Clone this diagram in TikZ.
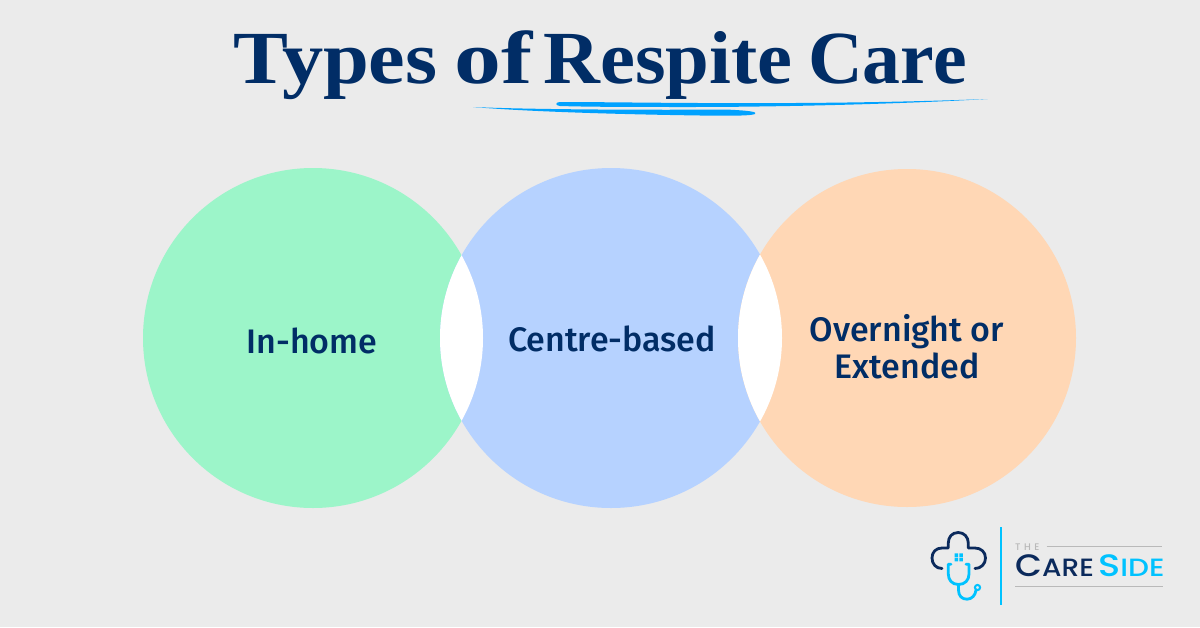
\documentclass[tikz,border=0pt]{standalone}
\usepackage{graphicx}
\usepackage{fontspec}
\setmainfont{Fira Sans Medium}
\newfontfamily\titlefont{Liberation Serif Bold}
\newfontfamily\logofont{Poppins Medium}
\definecolor{bg}{HTML}{EBEBEB}
\definecolor{navy}{HTML}{012D66}
\definecolor{swoosh}{HTML}{00A2FF}
\definecolor{greenc}{HTML}{9CF5C9}
\definecolor{bluec}{HTML}{B6D2FF}
\definecolor{orangec}{HTML}{FFD7B5}
\definecolor{cyanl}{HTML}{00C2FF}
\definecolor{logonavy}{HTML}{0B2A5C}
\definecolor{greyl}{HTML}{B9B9B9}
\tikzset{
  labeltext/.style={text=navy,font=\fontsize{34}{37}\selectfont,align=center,inner sep=0pt},
  logostroke/.style={line width=2.8pt,line cap=round,line join=round},
  logotext/.style={inner sep=0pt,anchor=base west}
}
\begin{document}
\begin{tikzpicture}[x=1pt,y=-1pt]
\useasboundingbox (0,0) rectangle (1200,627);
\fill[bg] (0,0) rectangle (1200,627);
\fill[greenc] (313,338) circle[radius=170];
\fill[bluec] (611,338) ellipse[x radius=171,y radius=170];
\fill[orangec] (907,338) circle[radius=169];
\begin{scope}
\clip (313,338) circle[radius=170];
\fill[white] (611,338) ellipse[x radius=171,y radius=170];
\end{scope}
\begin{scope}
\clip (611,338) ellipse[x radius=171,y radius=170];
\fill[white] (907,338) circle[radius=169];
\end{scope}
\node[labeltext] (inhome) at (312,341) {In-home};
\node[labeltext] (centre) at (612,339) {Centre-based};
\node[labeltext] (over) at (907,347) {Overnight or\\Extended};
% title
\node[inner sep=0pt,anchor=base west,text=navy,font=\titlefont\fontsize{75}{80}\selectfont] (title) at (233,83) {\scalebox{1.098}[1]{Types}\kern-2pt{} \scalebox{1.25}[1]{of}\kern-7.75pt{} \scalebox{1.049}[1]{Respite}\kern-3pt{} \scalebox{1.01}[1]{Care}};
% swoosh
\fill[swoosh] (987.5,99) .. controls (900,104) and (780,107) .. (691,107) .. controls (640,107) and (590,107) .. (560,106) .. controls (555,105.5) and (555,102.3) .. (560,102) .. controls (640,102) and (800,106) .. (987.5,99) -- cycle;
\fill[swoosh] (473,107) .. controls (520,111) and (600,114) .. (700,115.5) .. controls (730,115.8) and (750,116) .. (755,114) .. controls (758,112) and (750,110.5) .. (725,109.5) .. controls (680,110) and (540,110) .. (473,107) -- cycle;
% logo
\draw[logostroke,logonavy] (942,568.5) .. controls (936,568.5) and (932,564) .. (932,558) .. controls (932,552) and (936,548) .. (942,548) -- (948.3,548) -- (948.3,543) .. controls (948.3,537) and (952,532.5) .. (958.3,532.5) .. controls (964,532.5) and (968.3,537) .. (968.3,543) -- (968.3,548) -- (975,548) .. controls (981,548) and (985.5,552) .. (985.5,558) .. controls (985.5,564) and (981,568.5) .. (975,568.5);
\draw[logostroke,cyanl] (951,564.3) -- (948.3,564.3) -- (948.3,574) .. controls (948.3,580) and (952,584.5) .. (958.5,584.5) .. controls (965,584.5) and (969,580) .. (969,574) -- (969,564.3) -- (966,564.3);
\draw[logostroke,cyanl] (958.5,584.5) -- (958.5,590) .. controls (958.5,596) and (962,599.2) .. (967,599.2) .. controls (972,599.2) and (975.5,595) .. (976,590);
\draw[line width=2pt,cyanl] (977.5,587.5) circle[radius=2.6];
\fill[cyanl] (954.6,553.3) rectangle +(3.6,3.6) (959.3,553.3) rectangle +(3.6,3.6) (954.6,557.7) rectangle +(3.6,3.6) (959.3,557.7) rectangle +(3.6,3.6);
\fill[cyanl] (1000,527) rectangle (1001.8,605);
\node[logotext,text=greyl,font=\logofont\fontsize{9.6}{10}\selectfont] (the) at (1015,550) {T\kern3.5pt H\kern3.5pt E};
\draw[greyl,line width=1pt] (1046.7,546.7) -- (1161.7,546.7);
\node[logotext,text=logonavy,font=\logofont,xscale=1.12] (care) at (1015,576.7) {\fontsize{31}{31}\selectfont C\fontsize{25}{25}\selectfont ARE};
\node[logotext,text=cyanl,font=\logofont,xscale=1.18] (side) at (1098,576.7) {\fontsize{31}{31}\selectfont S\fontsize{25}{25}\selectfont IDE};
\draw[greyl,line width=1pt] (1015,586.7) -- (1163,586.7);
\end{tikzpicture}
\end{document}
